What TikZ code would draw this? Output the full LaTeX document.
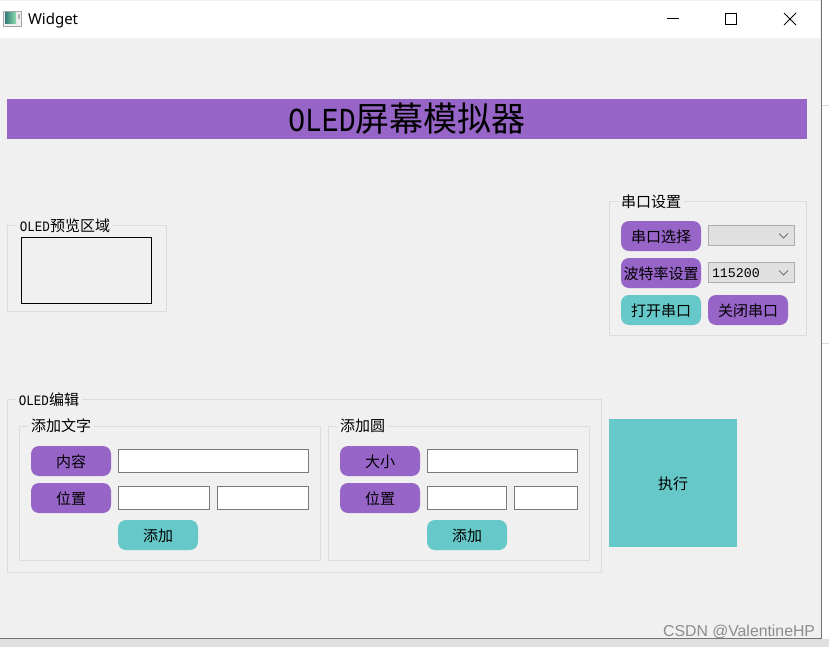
\documentclass[tikz,border=0pt]{standalone}
\usepackage{fontspec}
\usepackage{tikz}
\setmainfont{Liberation Mono}
\newfontfamily\cjk{Noto Sans CJK SC}
\newfontfamily\uifont{Noto Sans}
\newfontfamily\markfont{Liberation Sans}
\newfontfamily\latinfont{Liberation Mono}
\newcommand{\oledtag}{{\latinfont\fontsize{12.5}{15}\selectfont\scalebox{1}[1.15]{OLED}}}
\definecolor{winbg}{HTML}{F0F0F0}
\definecolor{purplebtn}{HTML}{9764C8}
\definecolor{tealbtn}{HTML}{66C8C8}
\definecolor{groupline}{HTML}{DCDCDC}
\begin{document}
\begin{tikzpicture}[x=1pt,y=-1pt,inner sep=0pt,outer sep=0pt,
  every node/.style={font=\cjk\fontsize{15}{15}\selectfont},
  groupbox/.style={draw=groupline,line width=1pt},
  grouptitle/.style={fill=winbg,inner xsep=3pt,inner ysep=1pt},
  btn/.style={rounded corners=8pt,minimum width=80pt,minimum height=30pt,text=black,text height=15pt,text depth=1.8pt},
  purple/.style={btn,fill=purplebtn},
  teal/.style={btn,fill=tealbtn},
  edit/.style={draw=black!52,fill=white,line width=1pt,minimum height=22.7pt,minimum width=#1},
  combo/.style={draw=black!32,fill=black!12,line width=1pt,minimum width=85.4pt,minimum height=19.4pt},
  chevron/.style={draw=black!55,line width=1pt}]
\useasboundingbox (0,0) rectangle (829,647);
\fill[white] (0,0) rectangle (829,647);
\draw[groupline] (821,105) -- (829,105) (821,343) -- (829,343);
\fill[black!12] (0,639) rectangle (829,647);
\node[fill=winbg,draw=black!55,line width=1pt,minimum width=822pt,minimum height=638pt] (window) at (410,319) {};
\node[fill=white,minimum width=820pt,minimum height=37pt] (titlebar) at (410,19.5) {};
\node[draw=black!35,fill=black!6,minimum width=18pt,minimum height=15pt] (icon) at (12,18.5) {};
\shade[left color=teal!70!black!80,right color=green!40!teal!45] (5,13) rectangle (16,24);
\fill[black!30] (18,14) rectangle (20,19);
\node[anchor=west,font=\uifont\fontsize{15}{15}\selectfont] (wintitle) at (28,21) {Widget};
\draw[line width=1pt] (667,18.5) -- (679,18.5);
\draw[line width=1pt] (725.5,13.5) rectangle (736.5,24.5);
\draw[line width=.8pt] (784,13) -- (796,25) (796,13) -- (784,25);

\node[fill=purplebtn,minimum width=800pt,minimum height=40pt,font=\latinfont\fontsize{28}{28}\selectfont] (banner) at (407,119) {\raisebox{-1pt}{\scalebox{1}[1.2]{OLED}{\cjk\fontsize{34}{34}\selectfont 屏幕模拟器}}};

\node[groupbox,minimum width=159pt,minimum height=86pt] (previewgroup) at (87,268) {};
\node[grouptitle] (previewtitle) at (65,226) {\oledtag 预览区域};
\node[draw=black,line width=1pt,minimum width=130pt,minimum height=66pt] (oled) at (86.5,270.5) {};

\node[groupbox,minimum width=197pt,minimum height=134pt] (serialgroup) at (708,268) {};
\node[grouptitle] (serialtitle) at (651,202) {串口设置};
\begin{scope}[node distance=37pt]
\node[purple] (portbtn) at (661,236) {串口选择};
\node[purple] (baudbtn) [below of = portbtn] {波特率设置};
\node[teal] (openbtn) [below of = baudbtn] {打开串口};
\node[purple] (closebtn) at (748,310) {关闭串口};
\node[combo] (portbox) at (751.5,235.5) {};
\node[combo] (baudbox) [below of = portbox] {};
\end{scope}
\node[anchor=west,font=\latinfont\fontsize{13.3}{14}\selectfont] (baudtext) at (712,273) {115200};
\draw[chevron] (779,233.5) -- (783.5,238) -- (788,233.5);
\draw[chevron] (779,270.5) -- (783.5,275) -- (788,270.5);

\node[groupbox,minimum width=594pt,minimum height=173pt] (editgroup) at (304.5,486) {};
\node[grouptitle] (edittitle) at (49,400) {\oledtag 编辑};

\node[groupbox,minimum width=301pt,minimum height=134pt] (textgroup) at (170,493.5) {};
\node[grouptitle] (texttitle) at (61,426) {添加文字};
\begin{scope}[node distance=37pt]
\node[purple] (contentbtn) at (71,461) {内容};
\node[purple] (textposbtn) [below of = contentbtn] {位置};
\node[edit=190pt] (contentedit) at (213.5,460.8) {};
\node[edit=90.5pt] (textxedit) at (164,497.8) {};
\node[edit=90.7pt] (textyedit) at (262.8,497.8) {};
\node[teal] (textaddbtn) at (158,535) {添加};
\end{scope}

\node[groupbox,minimum width=261pt,minimum height=134pt] (circlegroup) at (459,493.5) {};
\node[grouptitle] (circletitle) at (362.5,426) {添加圆};
\begin{scope}[node distance=37pt]
\node[purple] (sizebtn) at (380,461) {大小};
\node[purple] (circleposbtn) [below of = sizebtn] {位置};
\node[edit=149.7pt] (sizeedit) at (502.3,460.8) {};
\node[edit=78.7pt] (circlexedit) at (466.8,497.8) {};
\node[edit=62.4pt] (circleyedit) at (546,497.8) {};
\node[teal] (circleaddbtn) at (467,535) {添加};
\end{scope}

\node[fill=tealbtn,minimum size=128pt,text height=15pt,text depth=1.8pt] (runbtn) at (673,483) {执行};
\node[anchor=east,text=black!45,font=\markfont\fontsize{15.8}{16}\selectfont] (watermark) at (815,631.5) {CSDN @ValentineHP};
\end{tikzpicture}
\end{document}
